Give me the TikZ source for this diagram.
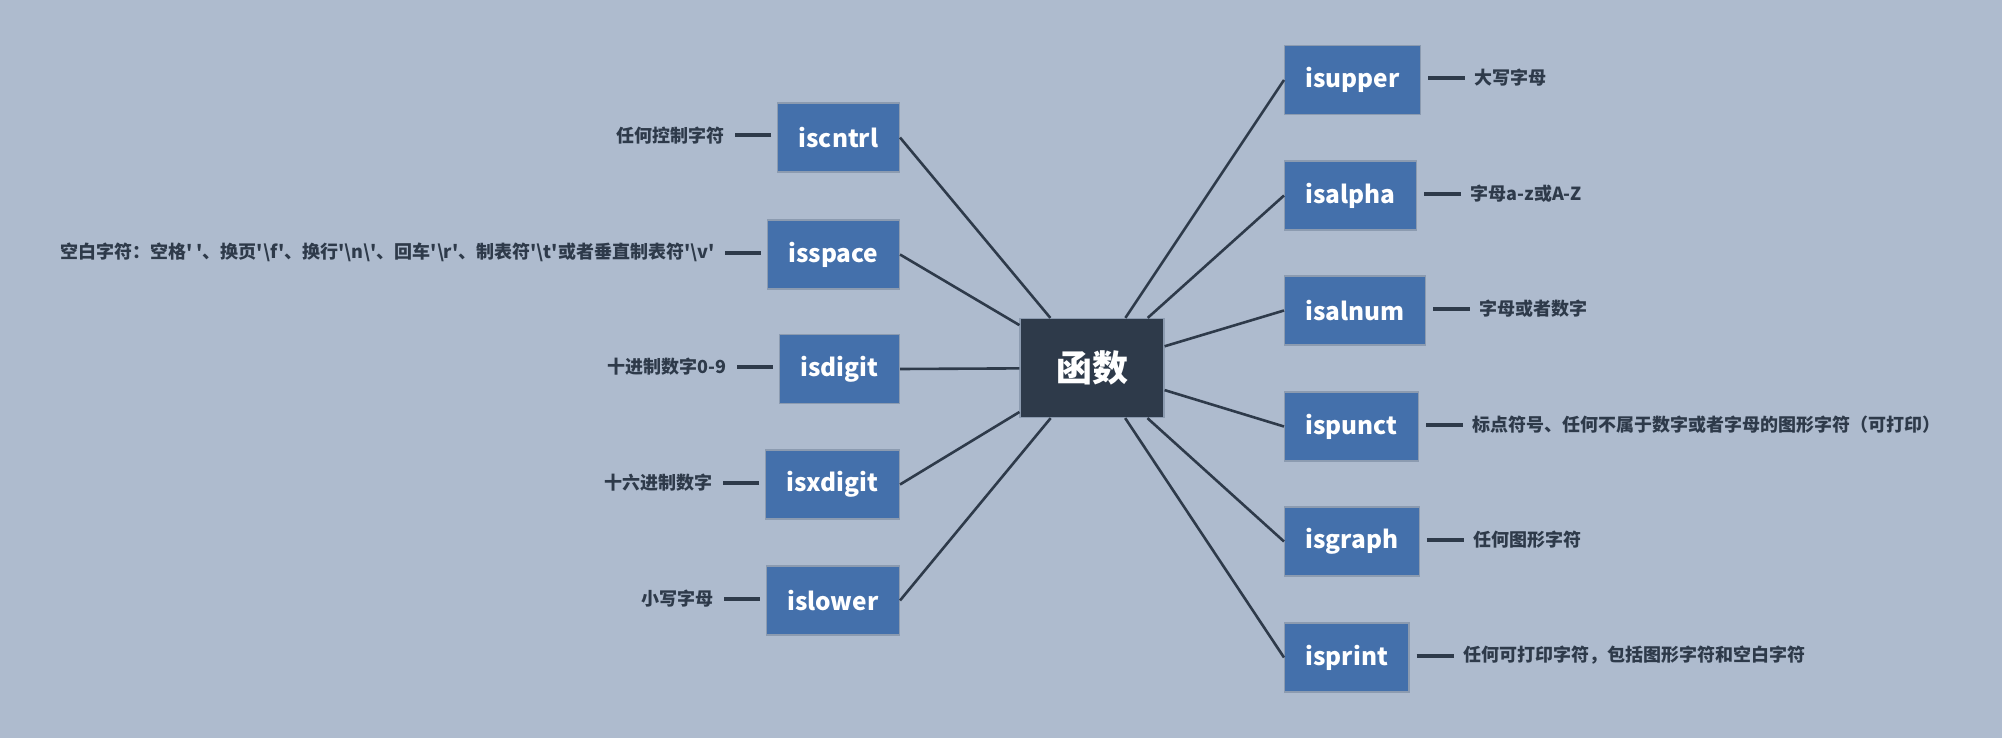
\documentclass[tikz,border=0pt]{standalone}
\usepackage{fontspec}
\setmainfont{Noto Sans CJK SC}[Ligatures=TeXOff]
\definecolor{bgc}{HTML}{AEBBCE}
\definecolor{nodeblue}{HTML}{4470AB}
\definecolor{nodeborder}{HTML}{8C9BB0}
\definecolor{rootc}{HTML}{2E3A4A}
\definecolor{linec}{HTML}{2E3A4A}
\definecolor{labc}{HTML}{2E3A4A}
\begin{document}
\begin{tikzpicture}[x=0.5pt,y=-0.5pt,
  fn/.style={fill=nodeblue, draw=nodeborder, line width=0.6pt, text=white,
    font=\bfseries\fontsize{12.2}{14}\selectfont, minimum height=34.5pt, inner xsep=10.5pt},
  root/.style={fill=rootc, draw=nodeborder, line width=0.6pt, text=white,
    font=\bfseries\fontsize{18}{20}\selectfont, minimum width=72pt, minimum height=49.5pt},
  lbl/.style={text=labc, font=\bfseries\fontsize{9}{11}\selectfont, inner sep=0pt},
  link/.style={draw=linec, line width=1.3pt},
  tick/.style={draw=linec, line width=2pt}]
\fill[bgc] (0,0) rectangle (2002,738);
\useasboundingbox (0,0) rectangle (2002,738);

\node[root] (c) at (1092,368) {函数};

% left nodes
\node[fn, anchor=east] (cntrl) at (900,137.5) {iscntrl};
\node[fn, anchor=east] (space) at (900,254.5) {isspace};
\node[fn, anchor=east] (digit) at (900,369) {isdigit};
\node[fn, anchor=east] (xdigit) at (900,484.5) {isxdigit};
\node[fn, anchor=east] (lower) at (900,600.5) {islower};

% right nodes
\node[fn, anchor=west] (upper) at (1284,80) {isupper};
\node[fn, anchor=west] (alpha) at (1284,195.5) {isalpha};
\node[fn, anchor=west] (alnum) at (1284,310.5) {isalnum};
\node[fn, anchor=west] (punct) at (1284,426.5) {ispunct};
\node[fn, anchor=west] (graph) at (1284,541.5) {isgraph};
\node[fn, anchor=west] (print) at (1284,657.5) {isprint};

% connectors
\foreach \n in {cntrl,space,digit,xdigit,lower} \draw[link] (c) -- (\n.east);
\foreach \n in {upper,alpha,alnum,punct,graph,print} \draw[link] (c) -- (\n.west);

% left labels
\node[lbl, anchor=east] (lcntrl) at ([xshift=-26pt,yshift=1pt]cntrl.west) {任何控制字符};
\node[lbl, anchor=east] (lspace) at ([xshift=-26pt,yshift=1pt]space.west) {空白字符：空格' '、换页'\textbackslash f'、换行'\textbackslash n\textbackslash '、回车'\textbackslash r'、制表符'\textbackslash t'或者垂直制表符'\textbackslash v'};
\node[lbl, anchor=east] (ldigit) at ([xshift=-26pt,yshift=1pt]digit.west) {十进制数字0-9};
\node[lbl, anchor=east] (lxdigit) at ([xshift=-26pt,yshift=1pt]xdigit.west) {十六进制数字};
\node[lbl, anchor=east] (llower) at ([xshift=-26pt,yshift=1pt]lower.west) {小写字母};
\foreach \n in {cntrl,space,digit,xdigit,lower}
  \draw[tick] ([xshift=-3pt,yshift=1pt]\n.west) -- ([xshift=5pt]l\n.east);

% right labels
\node[lbl, anchor=west] (lupper) at ([xshift=26.5pt,yshift=1pt]upper.east) {大写字母};
\node[lbl, anchor=west] (lalpha) at ([xshift=26.5pt,yshift=1pt]alpha.east) {字母a-z或A-Z};
\node[lbl, anchor=west] (lalnum) at ([xshift=26.5pt,yshift=1pt]alnum.east) {字母或者数字};
\node[lbl, anchor=west] (lpunct) at ([xshift=26.5pt,yshift=1pt]punct.east) {标点符号、任何不属于数字或者字母的图形字符（可打印）};
\node[lbl, anchor=west] (lgraph) at ([xshift=26.5pt,yshift=1pt]graph.east) {任何图形字符};
\node[lbl, anchor=west] (lprint) at ([xshift=26.5pt,yshift=1pt]print.east) {任何可打印字符，包括图形字符和空白字符};
\foreach \n in {upper,alpha,alnum,punct,graph,print}
  \draw[tick] ([xshift=3.5pt,yshift=1pt]\n.east) -- ([xshift=-4.5pt]l\n.west);
\end{tikzpicture}
\end{document}
